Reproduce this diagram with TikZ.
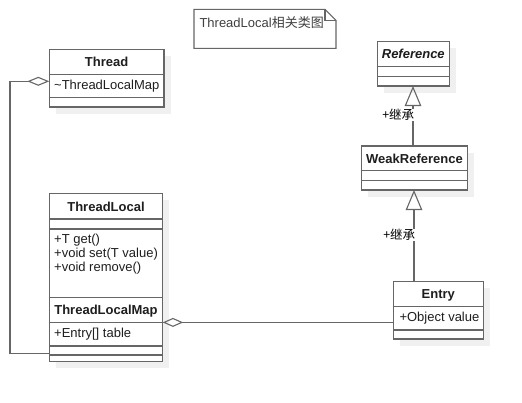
\documentclass[tikz,border=0pt]{standalone}
\usepackage{fontspec}
\setmainfont{Liberation Sans}
\newfontfamily\cjk{Noto Sans CJK SC}
\usetikzlibrary{arrows.meta}
\definecolor{linec}{RGB}{102,102,102}
\definecolor{shadowc}{RGB}{240,240,240}
\definecolor{txt}{RGB}{30,30,30}
\begin{document}
\begin{tikzpicture}[x=1pt,y=-1pt,
  box/.style={draw=linec, line width=1.1pt, fill=white, anchor=north west, inner sep=0pt, outer sep=0pt},
  shadowbox/.style={fill=shadowc, draw=none, anchor=north west, inner sep=0pt, outer sep=0pt},
  cname/.style={font=\fontsize{13}{15}\selectfont\bfseries, text=txt, inner sep=0pt, anchor=center},
  attr/.style={font=\fontsize{13}{14.3}\selectfont, text=txt, inner sep=0pt, anchor=west, align=left},
  div/.style={draw=linec, line width=1.1pt},
  conn/.style={draw=linec, line width=1.1pt},
  lbl/.style={font=\cjk\fontsize{12.5}{14}\selectfont, fill=white, inner sep=0.6pt, text=black, anchor=east}
]
\useasboundingbox (0,0) rectangle (522,402);

% ---- shadows ----
\node[shadowbox, minimum width=114.7pt, minimum height=57.3pt] (threadS) at (56,56.2) {};
\node[shadowbox, minimum width=113.4pt, minimum height=168.4pt] (tlS) at (56,199.8) {};
\node[shadowbox, minimum width=72pt, minimum height=44.3pt] (refS) at (384,48.2) {};
\node[shadowbox, minimum width=105.6pt, minimum height=44pt] (weakS) at (368.4,152.5) {};
\node[shadowbox, minimum width=90pt, minimum height=57.3pt] (entryS) at (400,288.2) {};

% ---- note ----
\node[anchor=north west, minimum width=142pt, minimum height=39pt, inner sep=0pt, outer sep=0pt] (note) at (194,9.3) {};
\draw[div, fill=white] (note.north west) -- ([xshift=-11pt]note.north east) -- ([yshift=-11pt]note.north east) -- (note.south east) -- (note.south west) -- cycle;
\draw[div] ([xshift=-11pt]note.north east) -- ([xshift=-11pt,yshift=-11pt]note.north east) -- ([yshift=-11pt]note.north east);
\node[attr, text=black!75] (notetxt) at (199.3,22.7) {ThreadLocal{\cjk 相关类图}};

% ---- Thread ----
\node[box, minimum width=114.7pt, minimum height=57.3pt] (thread) at (49.3,49.7) {};
\draw[div] (49.3,74.7) -- (164,74.7);
\draw[div] (49.3,97.7) -- (164,97.7);
\node[cname] (threadT) at (106.6,62.3) {Thread};
\node[attr] (threadA) at (54,86) {\textasciitilde ThreadLocalMap};

% ---- ThreadLocal ----
\node[box, minimum width=113.4pt, minimum height=168.4pt] (tl) at (49.3,193.3) {};
\draw[div] (49.3,219) -- (162.7,219);
\draw[div] (49.3,229) -- (162.7,229);
\node[cname] (tlT) at (106,206.7) {ThreadLocal};
\node[attr, anchor=north west] (tlM) at (54,233.5) {+T get()\\+void set(T value)\\+void remove()};

% ---- ThreadLocalMap (nested) ----
\node[box, minimum width=113.4pt, minimum height=57.7pt] (tlm) at (49.3,297.3) {};
\draw[div] (49.3,322.7) -- (162.7,322.7);
\draw[div] (49.3,346) -- (162.7,346);
\node[cname] (tlmT) at (106,310.7) {ThreadLocalMap};
\node[attr] (tlmA) at (54,333.8) {+Entry[] table};

% ---- Reference ----
\node[box, minimum width=72pt, minimum height=44.3pt] (ref) at (377.3,41.7) {};
\draw[div] (377.3,66.7) -- (449.3,66.7);
\draw[div] (377.3,76.7) -- (449.3,76.7);
\node[cname, font=\fontsize{13}{15}\selectfont\bfseries\itshape] (refT) at (413.3,54.2) {Reference};

% ---- WeakReference ----
\node[box, minimum width=105.6pt, minimum height=44pt] (weak) at (361.7,146) {};
\draw[div] (361.7,170.7) -- (467.3,170.7);
\draw[div] (361.7,180.7) -- (467.3,180.7);
\node[cname] (weakT) at (414.5,158.5) {WeakReference};

% ---- Entry ----
\node[box, minimum width=90pt, minimum height=57.3pt] (entry) at (393.3,281.7) {};
\draw[div] (393.3,306.7) -- (483.3,306.7);
\draw[div] (393.3,330) -- (483.3,330);
\node[cname] (entryT) at (438.3,295) {Entry};
\node[attr] (entryA) at (399.3,317.8) {+Object value};

% ---- connectors ----
\coordinate (bendA) at (10,81.3);
\coordinate (bendB) at (10,353.3);
\draw[conn, {Diamond[open, length=22pt, width=9pt]}-] (thread.west |- bendA) -- (bendA) -- (bendB) -- (tl.west |- bendB);

\coordinate (rowE) at (0,322.4);
\draw[conn, {Diamond[open, length=20.5pt, width=9pt]}-] (tlm.east |- rowE) -- (entry.west |- rowE);

\coordinate (xg1) at (413,0);
\draw[conn, -{Triangle[open, length=20pt, width=16.5pt]}] (weak.north -| xg1) -- (ref.south -| xg1);
\node[lbl] (lbl1) at (415,115) {+继承};

\coordinate (xg2) at (414,0);
\draw[conn, -{Triangle[open, length=20pt, width=16.5pt]}] (entry.north -| xg2) -- (weak.south -| xg2);
\node[lbl] (lbl2) at (416,235) {+继承};
\end{tikzpicture}
\end{document}
